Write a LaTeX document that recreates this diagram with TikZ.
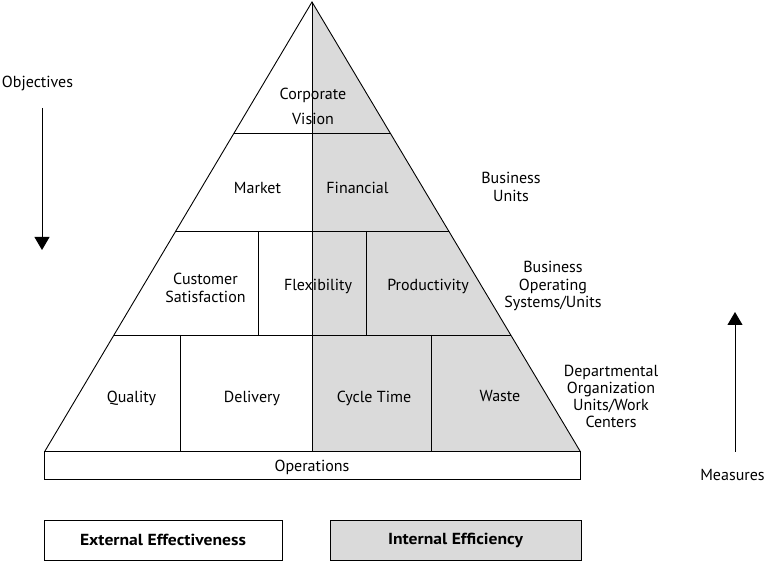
\documentclass[tikz,border=0pt]{standalone}
\usepackage{fontspec}
\setmainfont{PT Sans}
\newfontfamily\widebold[FakeStretch=1.1]{PT Sans Bold}
\usetikzlibrary{arrows.meta}
\definecolor{lg}{RGB}{218,218,218}
\begin{document}
\begin{tikzpicture}[x=1pt,y=-1pt,line width=0.9pt,
  lbl/.style={font=\fontsize{16}{18}\selectfont,align=center,anchor=base,inner sep=0pt},
  blbl/.style={lbl,font=\fontsize{16}{18}\selectfont\widebold},
  bigarrow/.style={-{Triangle[width=15pt,length=13pt]}}]
\useasboundingbox (0,0) rectangle (764,561);
% key points
\coordinate (apex) at (312,2);
\coordinate (bl) at (45,451);
\coordinate (br) at (580,451);
\coordinate (bm) at (312,451);
% gray half
\fill[lg] (apex) -- (br) -- (bm) -- cycle;
% level lines
\coordinate (l1) at (234.1,133); \coordinate (r1) at (390.2,133);
\coordinate (l2) at (175.8,231); \coordinate (r2) at (448.7,231);
\coordinate (l3) at (114.0,335); \coordinate (r3) at (510.8,335);
\draw (l1) -- (r1);
\draw (l2) -- (r2);
\draw (l3) -- (r3);
\draw (apex) -- (bm);
% dividers
\draw (258,231) -- (258,335);
\draw (366,231) -- (366,335);
\draw (180,335) -- (180,451);
\draw (431,335) -- (431,451);
\draw (bl) -- (apex) -- (br);
% operations box
\node[draw,minimum width=536pt,minimum height=28pt,inner sep=0pt,anchor=north west] (ops) at (44,451) {};
\node[lbl] (opst) at (312,471.5) {Operations};
% legend
\node[draw,minimum width=238pt,minimum height=40pt,inner sep=0pt,anchor=north west] (ext) at (44,520) {};
\node[draw,fill=lg,minimum width=251pt,minimum height=40pt,inner sep=0pt,anchor=north west] (int) at (329.5,520) {};
\node[blbl] (extt) at (163,546) {External Effectiveness};
\node[blbl] (intt) at (455.5,544) {Internal Efficiency};
% pyramid texts
\node[lbl,font=\fontsize{16}{25}\selectfont] (cv) at (313,125) {Corporate\\Vision};
\node[lbl] (mk) at (257.5,194) {Market};
\node[lbl] (fi) at (357.5,194) {Financial};
\node[lbl] (cs) at (205.5,302.7) {Customer\\Satisfaction};
\node[lbl] (fl) at (318,291) {Flexibility};
\node[lbl] (pr) at (428,291) {Productivity};
\node[lbl] (qu) at (131.5,403) {Quality};
\node[lbl] (de) at (252,403) {Delivery};
\node[lbl] (ct) at (374,403) {Cycle Time};
\node[lbl] (wa) at (500,402) {Waste};
% side texts
\node[lbl] (bu) at (511,201.7) {Business\\Units};
\node[lbl,font=\fontsize{16}{17.5}\selectfont] (bo) at (553,308) {Business\\Operating\\Systems/Units};
\node[lbl,font=\fontsize{16}{17.2}\selectfont] (dp) at (611,428) {Departmental\\Organization\\Units/Work\\Centers};
\node[lbl] (ob) at (37.5,88) {Objectives};
\node[lbl] (me) at (732.5,481) {Measures};
% arrows
\coordinate (o1) at (42,108); \coordinate (o2) at (42,250);
\coordinate (m1) at (735,452); \coordinate (m2) at (735,312);
\draw[bigarrow] (o1) -- (o2);
\draw[bigarrow] (m1) -- (m2);
\end{tikzpicture}
\end{document}
